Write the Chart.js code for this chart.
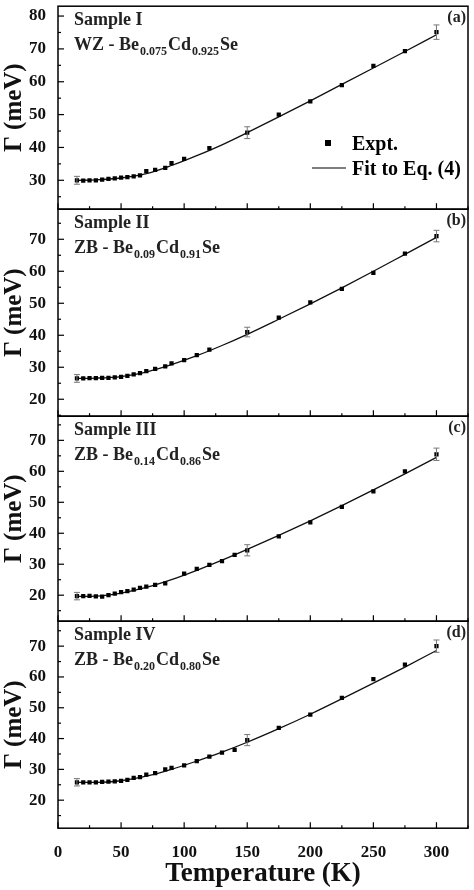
<!DOCTYPE html>
<html><head><meta charset="utf-8">
<script src="https://cdn.jsdelivr.net/npm/chart.js@4.4.1/dist/chart.umd.min.js"></script>
<style>
html,body{margin:0;padding:0;background:#fff;width:474px;height:890px;overflow:hidden}
.p{position:absolute;left:0;width:474px}
</style></head><body>
<div class="p" id="d0" style="top:0;height:210px"><canvas id="c0"></canvas></div>
<div class="p" id="d1" style="top:203px;height:214px"><canvas id="c1"></canvas></div>
<div class="p" id="d2" style="top:410px;height:211px"><canvas id="c2"></canvas></div>
<div class="p" id="d3" style="top:615px;height:275px"><canvas id="c3"></canvas></div>
<script>
// ---- data ----
const tempsA = [15,20,25,30,35,40,45,50,55,60,65,70,77,85,90,100,120,150,175,200,225,250,275,300];
const exptA  = [30,29.9,30,30,30.2,30.4,30.6,30.8,31,31.2,31.5,32.8,33.2,33.8,35.2,36.5,39.8,44.5,50,54,59,64.8,69.3,75.1];
const temps  = [15,20,25,30,35,40,45,50,55,60,65,70,77,85,90,100,110,120,130,140,150,175,200,225,250,275,300];
const tempsB = [15,20,25,30,35,40,45,50,55,60,65,70,77,85,90,100,110,120,150,175,200,225,250,275,300];
const exptB  = [26.5,26.5,26.6,26.6,26.7,26.7,26.8,27,27.3,27.8,28.2,28.8,29.5,30.3,31.2,32.2,33.8,35.5,41,45.5,50.3,54.5,59.5,65.5,71];
const tempsC = [15,20,25,30,35,40,45,50,55,60,65,70,77,85,100,110,120,130,140,150,175,200,225,250,275,300];
const exptC  = [19.7,19.7,19.8,19.6,19.5,20,20.5,21,21.3,21.8,22.4,22.8,23.3,23.8,27,28.5,29.8,31,33,34.5,39,43.5,48.5,53.5,60,65.5];
const exptD  = [25.8,25.8,25.8,25.8,25.9,26,26.1,26.3,26.6,27.2,27.5,28.3,28.8,30,30.5,31.3,32.7,34.1,35.4,36.3,39.5,43.5,47.8,53.2,59.3,64,70];
const fitT   = [15,30,50,70,90,110,130,150,175,200,225,250,275,300];
const fitA   = [30,30.1,30.7,32,34.5,37.5,40.8,44.5,49.3,54.2,59.2,64.2,69.2,74.3];
const fitB   = [26.5,26.6,27.1,28.5,30.8,33.6,36.8,40.3,45,49.8,54.8,60,65.3,70.6];
const fitC   = [19.6,19.7,20.7,22.5,25,28,31.3,34.8,39.3,44,48.9,54,59.2,64.5];
const fitD   = [25.8,25.8,26.3,27.8,30,32.7,35.6,38.8,43.2,47.9,52.9,58,63.2,68.6];
const errT   = [15,150,300];
const errA   = [1.2,1.8,2.2];
const errB   = [1.2,1.5,1.8];
const errC   = [1.2,1.8,2];
const errD   = [1.2,1.8,2];
const yTicks = [[30,40,50,60,70,80],[20,30,40,50,60,70],[20,30,40,50,60,70],[20,30,40,50,60,70]];
const xTicks = [0,50,100,150,200,250,300];
const panels = [
 {t:tempsA,e:exptA,f:fitA,err:errA,min:21.2,max:83,name:'Sample I',pre:'WZ - Be',s1:'0.075',mid:'Cd',s2:'0.925',lab:'(a)'},
 {t:tempsB,e:exptB,f:fitB,err:errB,min:14.7,max:79.4,name:'Sample II',pre:'ZB - Be',s1:'0.09',mid:'Cd',s2:'0.91',lab:'(b)'},
 {t:tempsC,e:exptC,f:fitC,err:errC,min:11.6,max:77.8,name:'Sample III',pre:'ZB - Be',s1:'0.14',mid:'Cd',s2:'0.86',lab:'(c)'},
 {t:temps,e:exptD,f:fitD,err:errD,min:10.9,max:78.1,name:'Sample IV',pre:'ZB - Be',s1:'0.20',mid:'Cd',s2:'0.80',lab:'(d)'}
];
const areaTop = [6,209,416,621], areaBot = [209,416,621,828];
const SERIF = '"Liberation Serif","DejaVu Serif",serif';

function mk(i){
 const P = panels[i], last = i===3;
 const deco = {
  id:'deco',
  afterDatasetsDraw(ch){
   const c=ch.ctx, a=ch.chartArea, xs=ch.scales.x, ys=ch.scales.y;
   c.save();
   c.strokeStyle='#777'; c.lineWidth=1;
   errT.forEach((t,k)=>{
     const idx=P.t.indexOf(t); if(idx<0) return;
     const x=xs.getPixelForValue(t), y1=ys.getPixelForValue(P.e[idx]-P.err[k]), y2=ys.getPixelForValue(P.e[idx]+P.err[k]);
     c.beginPath(); c.moveTo(x,y1);c.lineTo(x,y2);
     c.moveTo(x-3,y1);c.lineTo(x+3,y1);c.moveTo(x-3,y2);c.lineTo(x+3,y2);c.stroke();
   });
   c.strokeStyle='#000'; c.lineWidth=1.5;
   c.strokeRect(a.left,a.top,a.right-a.left,a.bottom-a.top);
   c.lineWidth=1.2;
   for(let v=0;v<=325;v+=25){
     const x=xs.getPixelForValue(v), L=(v%50===0)?6:3;
     c.beginPath();c.moveTo(x,a.bottom);c.lineTo(x,a.bottom-L);c.stroke();
   }
   for(let v=10;v<=85;v+=5){
     if(v<ys.min||v>ys.max) continue;
     const y=ys.getPixelForValue(v), L=(v%10===0)?6:3;
     c.beginPath();c.moveTo(a.left,y);c.lineTo(a.left+L,y);c.stroke();
   }
   c.fillStyle='#222'; c.textBaseline='alphabetic'; c.textAlign='left';
   c.font='bold 18px '+SERIF;
   c.fillText(P.name,a.left+16,a.top+19);
   let x=a.left+16, y=a.top+44;
   const seg=[[P.pre,18,0],[P.s1,12,5],[P.mid,18,0],[P.s2,12,5],['Se',18,0]];
   seg.forEach(s=>{c.font='bold '+s[1]+'px '+SERIF;c.fillText(s[0],x,y+s[2]);x+=c.measureText(s[0]).width+1;});
   c.font='bold 16px '+SERIF; c.textAlign='right';
   c.fillText(P.lab,a.right-2,a.top+16);
   if(i===0){
     c.textAlign='left'; c.font='bold 20px '+SERIF;
     c.fillStyle='#000'; c.fillRect(325,148,6,6);
     c.fillText('Expt.',352,158);
     c.lineWidth=1.2; c.beginPath();c.moveTo(312,176);c.lineTo(346,176);c.stroke();
     c.fillText('Fit to Eq. (4)',352,183);
   }
   c.restore();
  }
 };
 const ch = new Chart(document.getElementById('c'+i),{
  type:'scatter',
  data:{datasets:[
   {data:P.t.map((t,k)=>({x:t,y:P.e[k]})),pointStyle:'rect',pointRadius:3,backgroundColor:'#000',borderColor:'#000',borderWidth:0,showLine:false},
   {data:fitT.map((t,k)=>({x:t,y:P.f[k]})),showLine:true,pointRadius:0,borderColor:'#111',borderWidth:1.3,cubicInterpolationMode:'monotone',fill:false}
  ]},
  options:{
   responsive:true,maintainAspectRatio:false,animation:false,
   layout:{padding:{top:0,right:6,left:0,bottom:0}},
   plugins:{legend:{display:false},tooltip:{enabled:false}},
   scales:{
    x:{type:'linear',min:0,max:325,display:last,
       afterBuildTicks(s){s.ticks=xTicks.map(v=>({value:v}));},
       afterFit(s){if(last) s.height=62;},
       grid:{display:false},border:{display:false},
       ticks:{color:'#111',font:{family:SERIF,size:17,weight:'bold'},padding:6,maxRotation:0},
       title:{display:true,text:'Temperature (K)',color:'#111',font:{family:SERIF,size:27,weight:'bold'},padding:{top:2,bottom:0}}},
    y:{type:'linear',min:P.min,max:P.max,
       afterBuildTicks(s){s.ticks=yTicks[i].map(v=>({value:v}));},
       afterFit(s){s.width=58;},
       grid:{display:false},border:{display:false},
       ticks:{color:'#111',font:{family:SERIF,size:17,weight:'bold'},padding:4},
       title:{display:true,text:'Γ (meV)',color:'#111',font:{family:SERIF,size:25,weight:'bold'},padding:{top:0,bottom:2}}}
   }
  },
  plugins:[deco]
 });
 // align chart area to target pixel rows
 const div = document.getElementById('d'+i);
 const H = div.offsetHeight, T = div.offsetTop;
 const a = ch.chartArea;
 const overhead = H - (a.bottom - a.top);
 const newH = (areaBot[i]-areaTop[i]) + overhead;
 const newT = areaTop[i] - a.top;
 div.style.top = newT+'px';
 div.style.height = newH+'px';
 ch.resize(474,newH);
}
for(let i=0;i<4;i++) mk(i);
</script></body></html>
